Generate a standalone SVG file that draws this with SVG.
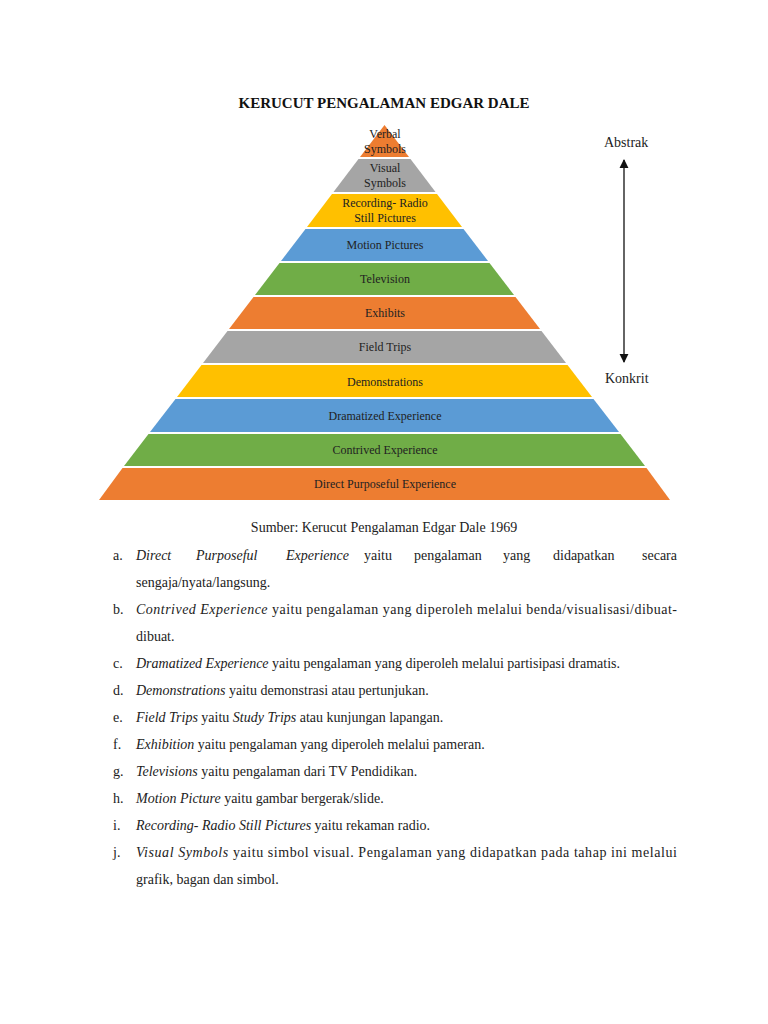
<svg xmlns="http://www.w3.org/2000/svg" width="768" height="1024" viewBox="0 0 768 1024">
<style>
.l{font-family:"Liberation Serif",serif;font-size:12px;fill:#222;text-anchor:middle}
.b{font-family:"Liberation Serif",serif;font-size:14px;fill:#222}
.t{font-family:"Liberation Serif",serif;font-size:15px;font-weight:bold;fill:#111;text-anchor:middle}
.o{fill:#ED7D31}.g{fill:#A5A5A5}.y{fill:#FFC000}.bl{fill:#5B9BD5}.gr{fill:#70AD47}
</style>
<defs><marker id="a" viewBox="0 0 10 10" refX="9" refY="5" markerWidth="7" markerHeight="7" orient="auto-start-reverse"><path d="M0,0L10,5L0,10z" fill="#111"/></marker></defs>
<rect width="768" height="1024" fill="#fff"/>
<text class="t" x="384" y="108">KERUCUT PENGALAMAN EDGAR DALE</text>
<g id="verbal"><polygon class="o" points="384.5,125 360,157 409,157"/><text class="l" x="385" y="138">Verbal</text><text class="l" x="385" y="153">Symbols</text></g>
<g id="visual"><polygon class="g" points="358.5,159 410.5,159 435.5,192 333.5,192"/><text class="l" x="385" y="172">Visual</text><text class="l" x="385" y="187">Symbols</text></g>
<g id="recording"><polygon class="y" points="332,194 437,194 462,227 307,227"/><text class="l" x="385" y="207">Recording- Radio</text><text class="l" x="385" y="222">Still Pictures</text></g>
<g id="motion"><polygon class="bl" points="305.5,229 463.5,229 488,261 281,261"/><text class="l" x="385" y="249">Motion Pictures</text></g>
<g id="tv"><polygon class="gr" points="279.5,263 489.5,263 514,295 255,295"/><text class="l" x="385" y="283">Television</text></g>
<g id="exhibits"><polygon class="o" points="253.5,297 515.5,297 540,329 229,329"/><text class="l" x="385" y="317">Exhibits</text></g>
<g id="field"><polygon class="g" points="227.5,331 541.5,331 566,363 203,363"/><text class="l" x="385" y="351">Field Trips</text></g>
<g id="demo"><polygon class="y" points="201.5,365 567.5,365 592,397 177,397"/><text class="l" x="385" y="386">Demonstrations</text></g>
<g id="drama"><polygon class="bl" points="175.5,399 593.5,399 619,432 150,432"/><text class="l" x="385" y="420">Dramatized Experience</text></g>
<g id="contrived"><polygon class="gr" points="148.5,434 620.5,434 645,466 124,466"/><text class="l" x="385" y="454">Contrived Experience</text></g>
<g id="direct"><polygon class="o" points="122.5,468 646.5,468 670,500 99,500"/><text class="l" x="385" y="488">Direct Purposeful Experience</text></g>
<g id="connectors"><line x1="624" y1="160" x2="624" y2="362" stroke="#111" stroke-width="1.3" marker-start="url(#a)" marker-end="url(#a)"/></g>
<text class="b" x="604" y="147">Abstrak</text>
<text class="b" x="605" y="383">Konkrit</text>
<text class="b" x="384" y="532" text-anchor="middle">Sumber: Kerucut Pengalaman Edgar Dale 1969</text>
<g class="b">
<text x="113" y="560">a.</text><text x="136" y="560" font-style="italic">Direct</text><text x="196" y="560" font-style="italic">Purposeful</text><text x="286" y="560" font-style="italic">Experience</text><text x="364" y="560">yaitu</text><text x="414" y="560">pengalaman</text><text x="503" y="560">yang</text><text x="553" y="560">didapatkan</text><text x="677" y="560" text-anchor="end">secara</text>
<text x="136" y="587">sengaja/nyata/langsung.</text>
<text x="113" y="614">b.</text><text x="136" y="614" textLength="541" lengthAdjust="spacing"><tspan font-style="italic">Contrived Experience</tspan> yaitu pengalaman yang diperoleh melalui benda/visualisasi/dibuat-</text>
<text x="136" y="641">dibuat.</text>
<text x="113" y="668">c.</text><text x="136" y="668"><tspan font-style="italic">Dramatized Experience</tspan> yaitu pengalaman yang diperoleh melalui partisipasi dramatis.</text>
<text x="113" y="695">d.</text><text x="136" y="695"><tspan font-style="italic">Demonstrations</tspan> yaitu demonstrasi atau pertunjukan.</text>
<text x="113" y="722">e.</text><text x="136" y="722"><tspan font-style="italic">Field Trips</tspan> yaitu <tspan font-style="italic">Study Trips</tspan> atau kunjungan lapangan.</text>
<text x="113" y="749">f.</text><text x="136" y="749"><tspan font-style="italic">Exhibition</tspan> yaitu pengalaman yang diperoleh melalui pameran.</text>
<text x="113" y="776">g.</text><text x="136" y="776"><tspan font-style="italic">Televisions</tspan> yaitu pengalaman dari TV Pendidikan.</text>
<text x="113" y="803">h.</text><text x="136" y="803"><tspan font-style="italic">Motion Picture</tspan> yaitu gambar bergerak/slide.</text>
<text x="113" y="830">i.</text><text x="136" y="830"><tspan font-style="italic">Recording- Radio Still Pictures</tspan> yaitu rekaman radio.</text>
<text x="113" y="857">j.</text><text x="136" y="857" textLength="541" lengthAdjust="spacing"><tspan font-style="italic">Visual Symbols</tspan> yaitu simbol visual. Pengalaman yang didapatkan pada tahap ini melalui</text>
<text x="136" y="884">grafik, bagan dan simbol.</text>
</g>
</svg>
